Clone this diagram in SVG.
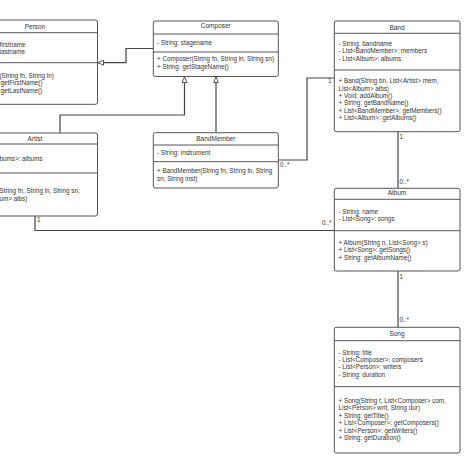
<svg xmlns="http://www.w3.org/2000/svg" width="474" height="474" viewBox="0 0 474 474">
<defs>
<style>
.box{fill:#fff;stroke:#555;stroke-width:1}
.sep{stroke:#555;stroke-width:1}
.t{font-family:"Liberation Sans",Arial,sans-serif;font-size:6.3px;fill:#333}
.h{font-family:"Liberation Sans",Arial,sans-serif;font-size:6.5px;fill:#333;text-anchor:middle}
.lbl{font-family:"Liberation Sans",Arial,sans-serif;font-size:6.3px;fill:#333}
.con{fill:none;stroke:#444;stroke-width:1.2}
</style>
<marker id="gen" markerWidth="7" markerHeight="7" refX="6" refY="3" orient="auto" markerUnits="userSpaceOnUse">
<path d="M0.5,0.5 L6,3 L0.5,5.5 Z" fill="#fff" stroke="#444" stroke-width="0.9"/>
</marker>
</defs>
<rect width="474" height="474" fill="#fff"/>

<g id="connectors">
<path class="con" d="M153.3,48.5 H126 V62.7 H98" marker-end="url(#gen)"/>
<path class="con" d="M60,133 V115 H184.5 V77" marker-end="url(#gen)"/>
<path class="con" d="M216,132.7 V77" marker-end="url(#gen)"/>
<path class="con" d="M278.3,160 H307 V78 H334.3"/>
<path class="con" d="M398,131.7 V188.3"/>
<path class="con" d="M35,216 V230.5 H334.3"/>
<path class="con" d="M398,271 V327.3"/>
<text class="lbl" x="280" y="166.5">0..*</text>
<text class="lbl" x="328" y="83.3">1</text>
<text class="lbl" x="399.5" y="139">1</text>
<text class="lbl" x="399.5" y="184">0..*</text>
<text class="lbl" x="37" y="222.3">1</text>
<text class="lbl" x="322" y="225.3">0..*</text>
<text class="lbl" x="399.5" y="279">1</text>
<text class="lbl" x="399.5" y="322.3">0..*</text>
</g>

<g id="person">
<rect class="box" x="-30" y="20" width="127.5" height="84.3" rx="2"/>
<line class="sep" x1="-30" y1="32.7" x2="97.5" y2="32.7"/>
<line class="sep" x1="-30" y1="62.7" x2="97.5" y2="62.7"/>
<text class="h" x="35" y="29">Person</text>
<text class="t" x="-0.5" y="46.5">firstname</text>
<text class="t" x="-0.5" y="54.2">lastname</text>
<text class="t" x="-0.5" y="77.5">(String fn, String ln)</text>
<text class="t" x="0.5" y="85">getFirstName()</text>
<text class="t" x="0.5" y="92.5">getLastName()</text>
</g>

<g id="composer">
<rect class="box" x="153.3" y="21" width="125" height="55.5" rx="2"/>
<line class="sep" x1="153.3" y1="34" x2="278.3" y2="34"/>
<line class="sep" x1="153.3" y1="52" x2="278.3" y2="52"/>
<text class="h" x="215.8" y="28">Composer</text>
<text class="t" x="157" y="44.5">- String: stagename</text>
<text class="t" x="157" y="61">+ Composer(String fn, String ln, String sn)</text>
<text class="t" x="157" y="68.5">+ String: getStageName()</text>
</g>

<g id="band">
<rect class="box" x="334.3" y="21" width="125.7" height="110.7" rx="2"/>
<line class="sep" x1="334.3" y1="33.3" x2="460" y2="33.3"/>
<line class="sep" x1="334.3" y1="70" x2="460" y2="70"/>
<text class="h" x="397" y="29.5">Band</text>
<text class="t" x="338.5" y="45.6">- String: bandname</text>
<text class="t" x="338.5" y="53">- List&lt;BandMember&gt;: members</text>
<text class="t" x="338.5" y="60.6">- List&lt;Album&gt;: albums</text>
<text class="t" x="338.5" y="83.3">+ Band(String bn, List&lt;Artist&gt; mem,</text>
<text class="t" x="338.5" y="90.6">List&lt;Album&gt; albs)</text>
<text class="t" x="338.5" y="98">+ Void: addAlbum()</text>
<text class="t" x="338.5" y="105.3">+ String: getBandName()</text>
<text class="t" x="338.5" y="112.6">+ List&lt;BandMember&gt;: getMembers()</text>
<text class="t" x="338.5" y="120">+ List&lt;Album&gt;: getAlbums()</text>
</g>

<g id="artist">
<rect class="box" x="-30" y="133" width="127.5" height="83" rx="2"/>
<line class="sep" x1="-30" y1="144" x2="97.5" y2="144"/>
<line class="sep" x1="-30" y1="173" x2="97.5" y2="173"/>
<text class="h" x="35" y="140.5">Artist</text>
<text class="t" x="-0.5" y="160.5">bums&gt;: albums</text>
<text class="t" x="-0.5" y="193.2">String fn, String ln, String sn,</text>
<text class="t" x="-0.5" y="200.5">um&gt; albs)</text>
</g>

<g id="bandmember">
<rect class="box" x="153.3" y="132.7" width="125" height="55.3" rx="2"/>
<line class="sep" x1="153.3" y1="145" x2="278.3" y2="145"/>
<line class="sep" x1="153.3" y1="161.7" x2="278.3" y2="161.7"/>
<text class="h" x="215.8" y="140.6">BandMember</text>
<text class="t" x="157" y="155">- String: instrument</text>
<text class="t" x="157" y="173.3">+ BandMember(String fn, String ln, String</text>
<text class="t" x="157" y="180.6">sn, String inst)</text>
</g>

<g id="album">
<rect class="box" x="334.3" y="188.3" width="125.7" height="82.7" rx="2"/>
<line class="sep" x1="334.3" y1="199.3" x2="460" y2="199.3"/>
<line class="sep" x1="334.3" y1="230.7" x2="460" y2="230.7"/>
<text class="h" x="397" y="194.6">Album</text>
<text class="t" x="338.5" y="214">- String: name</text>
<text class="t" x="338.5" y="221.3">- List&lt;Song&gt;: songs</text>
<text class="t" x="338.5" y="244.6">+ Album(String n, List&lt;Song&gt; s)</text>
<text class="t" x="338.5" y="252.3">+ List&lt;Song&gt;: getSongs()</text>
<text class="t" x="338.5" y="259.6">+ String: getAlbumName()</text>
</g>

<g id="song">
<rect class="box" x="334.3" y="327.3" width="125.7" height="125.7" rx="2"/>
<line class="sep" x1="334.3" y1="340.7" x2="460" y2="340.7"/>
<line class="sep" x1="334.3" y1="386.7" x2="460" y2="386.7"/>
<text class="h" x="397" y="335.6">Song</text>
<text class="t" x="338.5" y="354.6">- String: title</text>
<text class="t" x="338.5" y="362">- List&lt;Composer&gt;: composers</text>
<text class="t" x="338.5" y="369.3">- List&lt;Person&gt;: writers</text>
<text class="t" x="338.5" y="376.6">- String: duration</text>
<text class="t" x="338.5" y="403">+ Song(String t, List&lt;Composer&gt; com,</text>
<text class="t" x="338.5" y="410.3">List&lt;Person&gt; writ, String dur)</text>
<text class="t" x="338.5" y="417.6">+ String: getTitle()</text>
<text class="t" x="338.5" y="425.3">+ List&lt;Composer&gt;: getComposers()</text>
<text class="t" x="338.5" y="432.6">+ List&lt;Person&gt;: getWriters()</text>
<text class="t" x="338.5" y="440">+ String: getDuration()</text>
</g>
</svg>
